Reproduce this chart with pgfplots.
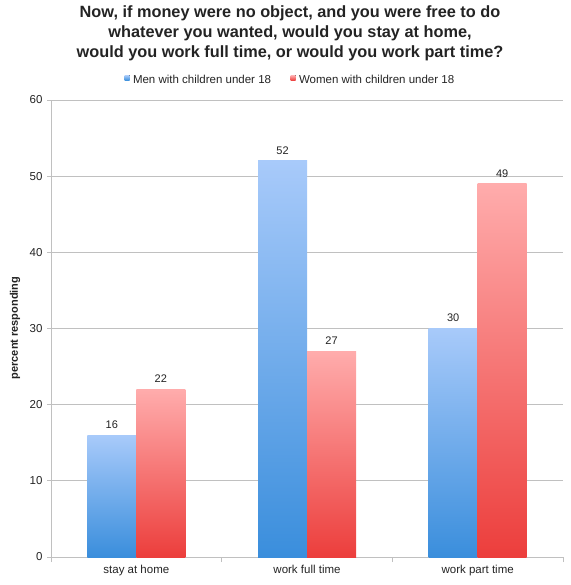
\documentclass[border=0pt]{standalone}
\usepackage{pgfplots}
\pgfplotsset{compat=1.18}
\usepackage{fontspec}
\setmainfont{Liberation Sans}

\definecolor{bluetop}{RGB}{168,202,250}
\definecolor{bluebot}{RGB}{58,142,220}
\definecolor{redtop}{RGB}{255,172,172}
\definecolor{redbot}{RGB}{236,62,60}
\definecolor{gridgray}{RGB}{192,192,192}
\definecolor{txt}{RGB}{35,35,35}

\pgfplotsset{
  menbar/.style={draw=none, top color=bluetop, bottom color=bluebot, bar shift=-24.5pt},
  womenbar/.style={draw=none, top color=redtop, bottom color=redbot, bar shift=24.5pt},
}

\begin{document}
\begin{tikzpicture}[x=1pt,y=1pt]
\path[use as bounding box] (0,0) rectangle (570,585);
\node[align=center, text=txt, font=\fontsize{16.3}{20}\selectfont\bfseries] at (290,552)
  {Now, if money were no object, and you were free to do\\
   whatever you wanted, would you stay at home,\\
   would you work full time, or would you work part time?};
\node[rotate=90, text=txt, font=\fontsize{11}{12}\selectfont\bfseries] at (15,257) {percent responding};
\begin{axis}[
    at={(51pt,28pt)}, anchor=south west,
    scale only axis, width=512pt, height=457pt,
    ybar=0pt, bar width=49pt,
    xmin=-0.5, xmax=2.5, ymin=0, ymax=60,
    xtick={0,1,2},
    xticklabels={stay at home, work full time, work part time},
    major x tick style={draw=none},
    minor xtick={-0.5,0.5,1.5,2.5},
    ytick={0,10,20,30,40,50,60},
    ymajorgrids, grid style={gridgray, line width=0.9pt},
    axis x line*=bottom, axis y line*=left,
    axis line style={gridgray, line width=0.9pt},
    tick style={gridgray, line width=0.9pt},
    tick align=outside, major tick length=4pt, minor tick length=5pt,
    ticklabel style={text=txt, font=\fontsize{11.5}{13}\selectfont},
    /pgf/number format/assume math mode=true,
    xticklabel style={yshift=-1pt},
    yticklabel style={xshift=-1pt},
    nodes near coords,
    every node near coord/.append style={text=txt, font=\fontsize{11}{13}\selectfont, yshift=3pt},
    legend columns=2,
    legend style={at={(0.467,1.044)}, anchor=center, draw=none, fill=none,
                  font=\fontsize{11.5}{13}\selectfont, text=txt,
                  nodes={inner sep=1.5pt},
                  /tikz/every even column/.append style={column sep=18pt}},
    legend image code/.code={\fill[#1,draw=none] (0pt,-0.5pt) rectangle (5pt,4.5pt); \path (7pt,0pt);},
]
\addplot[menbar] coordinates {(0,16)};
\addplot[womenbar] coordinates {(0,22)};
\addplot[menbar, forget plot] coordinates {(1,52)};
\addplot[womenbar, forget plot] coordinates {(1,27)};
\addplot[menbar, forget plot] coordinates {(2,30)};
\addplot[womenbar, forget plot] coordinates {(2,49)};
\legend{Men with children under 18, Women with children under 18}
\end{axis}
\end{tikzpicture}
\end{document}
